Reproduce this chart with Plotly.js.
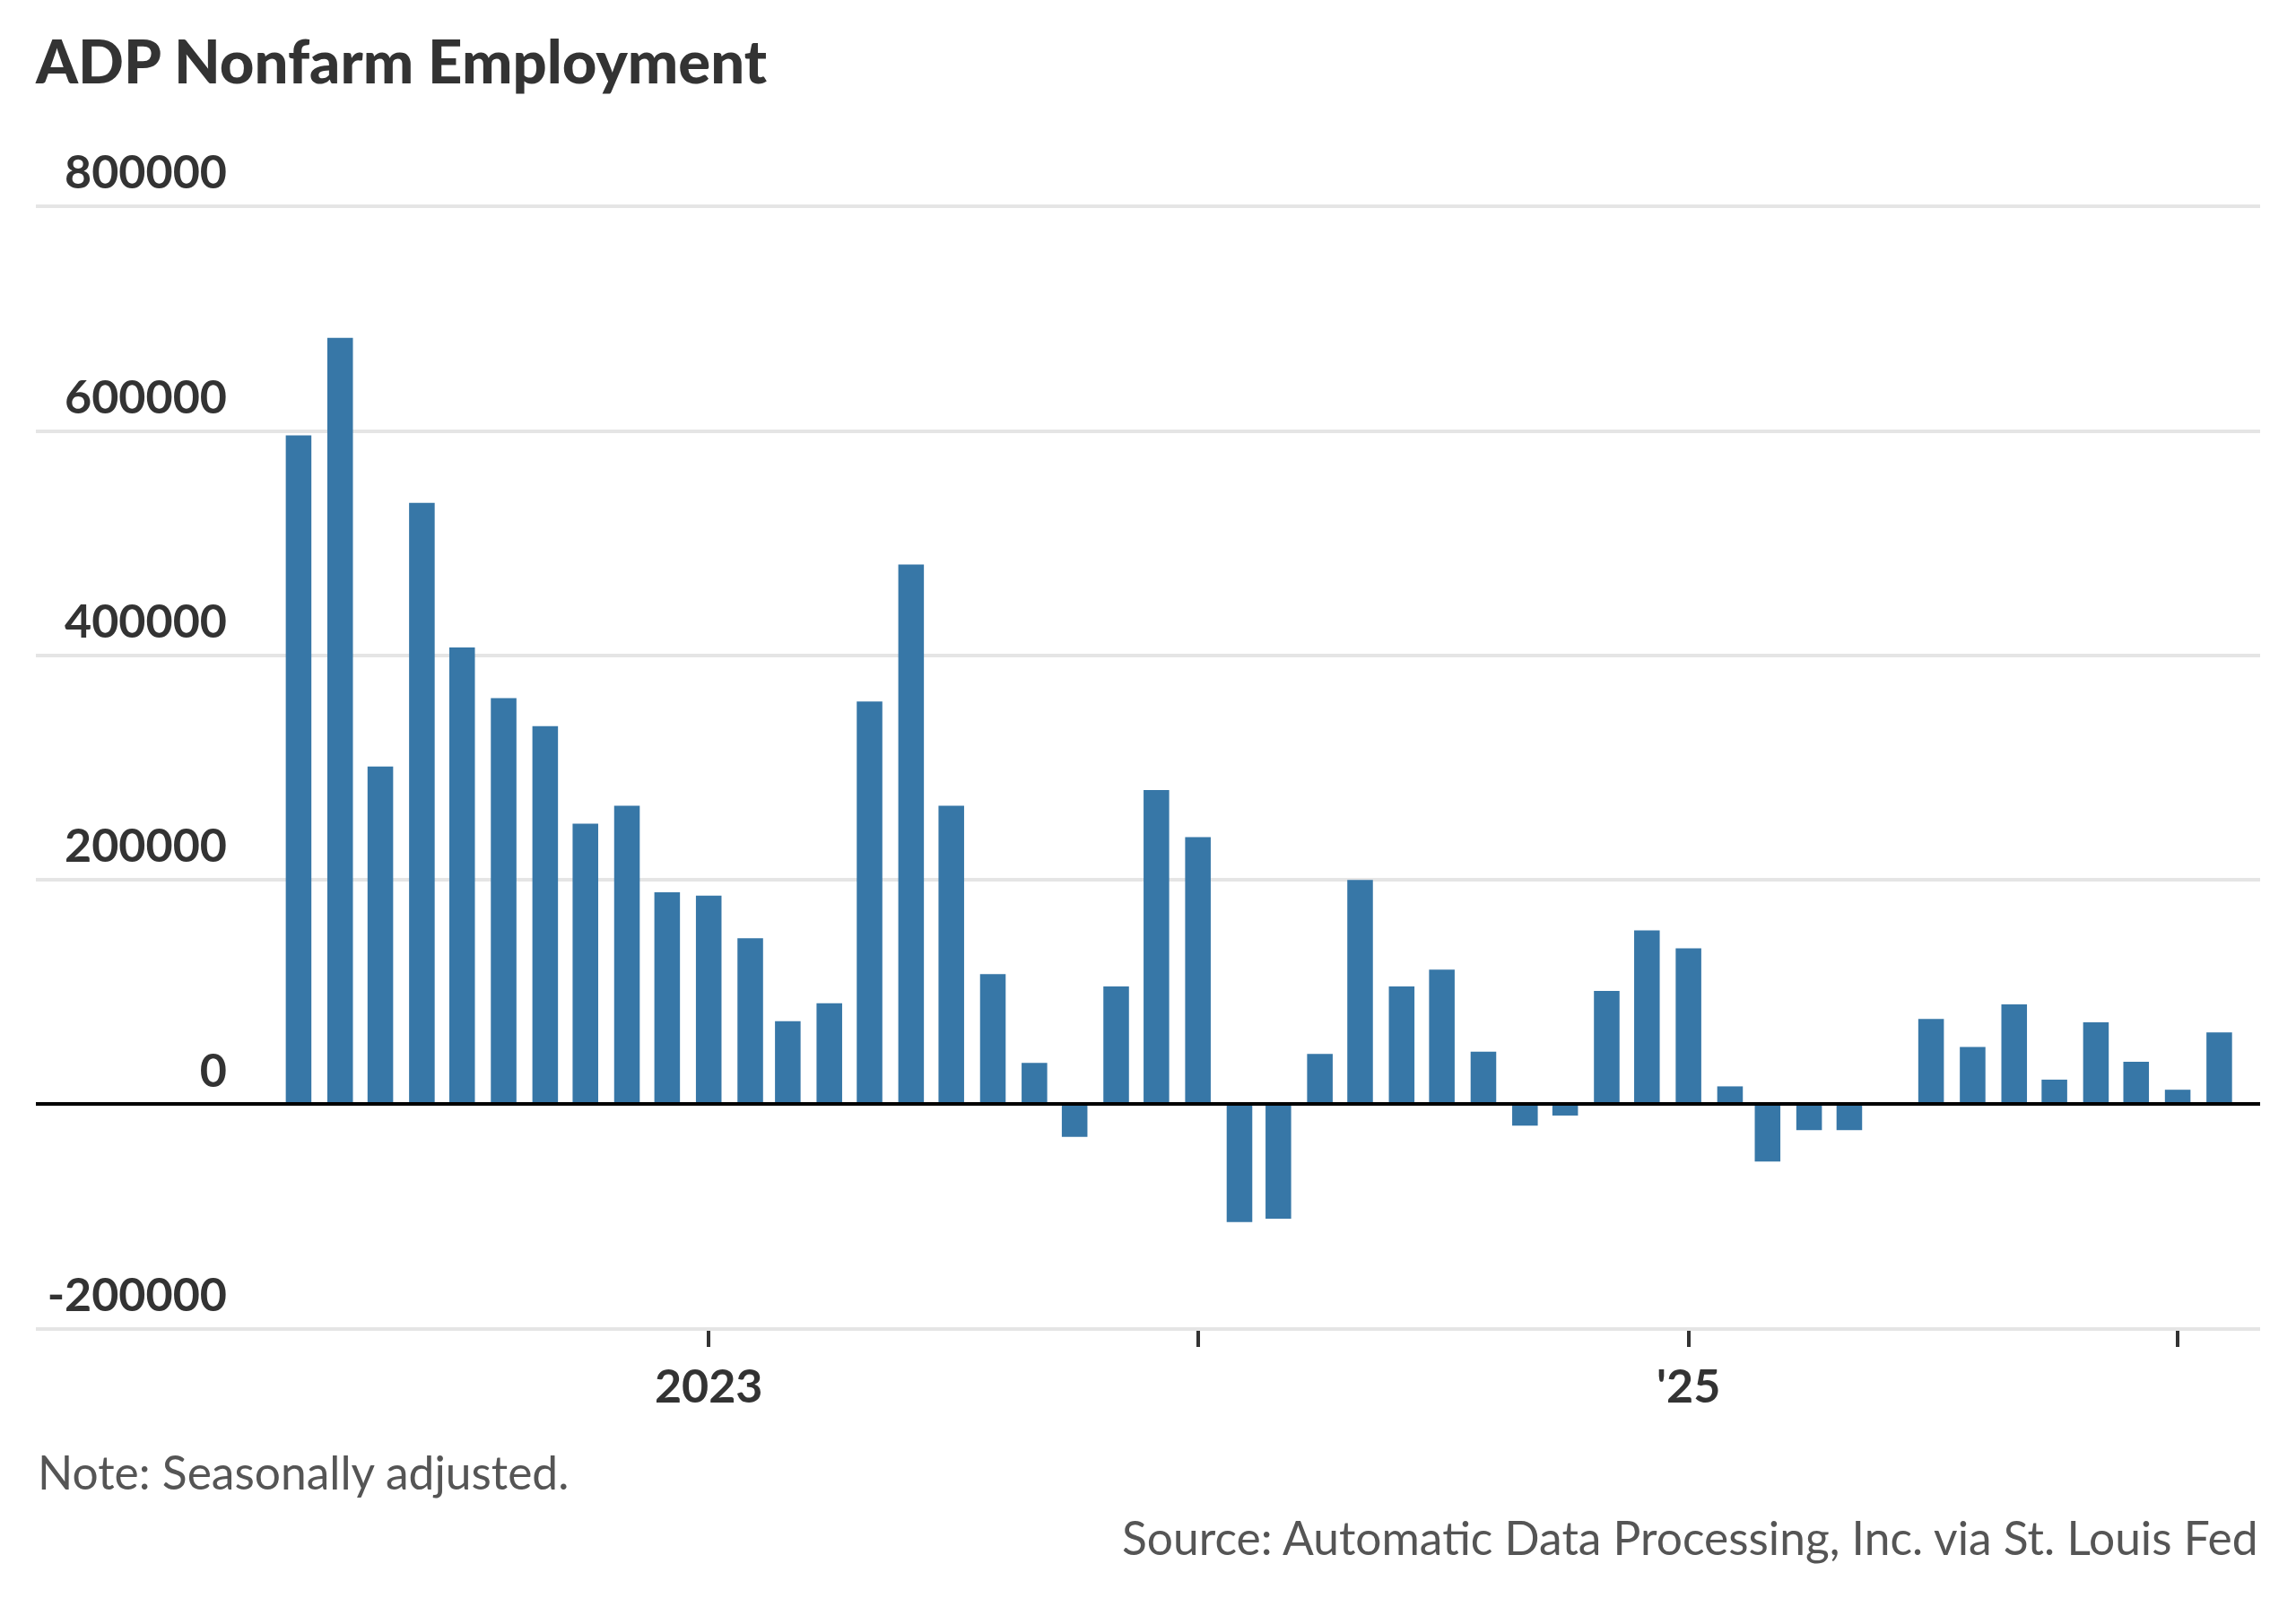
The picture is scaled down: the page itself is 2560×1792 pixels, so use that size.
<!DOCTYPE html>
<html>
<head>
<meta charset="utf-8">
<script src="https://cdn.plot.ly/plotly-3.0.1.min.js"></script>
<style>
  html, body { margin: 0; padding: 0; background: #ffffff; }
  #chart { width: 2560px; height: 1792px; }
</style>
</head>
<body>
<div id="chart"></div>
<script>
// ---- data (monthly change in ADP nonfarm employment) ----
const months = [
  '2022-03-01','2022-04-01','2022-05-01','2022-06-01','2022-07-01','2022-08-01',
  '2022-09-01','2022-10-01','2022-11-01','2022-12-01','2023-01-01','2023-02-01',
  '2023-03-01','2023-04-01','2023-05-01','2023-06-01','2023-07-01','2023-08-01',
  '2023-09-01','2023-10-01','2023-11-01','2023-12-01','2024-01-01','2024-02-01',
  '2024-03-01','2024-04-01','2024-05-01','2024-06-01','2024-07-01','2024-08-01',
  '2024-09-01','2024-10-01','2024-11-01','2024-12-01','2025-01-01','2025-02-01',
  '2025-03-01','2025-04-01','2025-05-01','2025-06-01','2025-07-01','2025-08-01',
  '2025-09-01','2025-10-01','2025-11-01','2025-12-01','2026-01-01','2026-02-01'
];
const employmentChange = [
  596000, 683000, 301000, 536000, 407000, 362000,
  337000, 250000, 266000, 189000, 186000, 148000,
  74000, 90000, 359000, 481000, 266000, 116000,
  37000, -29000, 105000, 280000, 238000, -105000,
  -102000, 45000, 200000, 105000, 120000, 47000,
  -19000, -10000, 101000, 155000, 139000, 16000,
  -51000, -23000, -23000, 0, 76000, 51000,
  89000, 22000, 73000, 38000, 13000, 64000
];
const yTickVals = [-200000, 0, 200000, 400000, 600000, 800000];
const yTickText = ['-200000', '0', '200000', '400000', '600000', '800000'];
const xMajorTickVals = ['2023-01-01', '2025-01-01'];
const xMajorTickText = ['2023', "'25"];
const xMinorTickVals = ['2024-01-01', '2026-01-01'];
const xLongTickVals = ['2025-01-01'];

const titleText = 'ADP Nonfarm Employment';
const noteText = 'Note: Seasonally adjusted.';
const sourceText = 'Source: Automatic Data Processing, Inc. via St. Louis Fed';

// ---- styling ----
const DAY = 86400000;
const xRange = ['2021-08-17', '2026-03-03 12:00'];
const yRange = [-201000, 801000];   // tiny padding so the edge gridlines are drawn
const FONT = 'Lato, "Noto Sans", sans-serif';

const trace = {
  type: 'bar',
  x: months,
  y: employmentChange,
  width: 19.1 * DAY,
  marker: { color: '#3777a7', line: { width: 0 } },
  hoverinfo: 'x+y',
  xaxis: 'x',
  yaxis: 'y'
};

const layout = {
  width: 2560,
  height: 1792,
  paper_bgcolor: '#ffffff',
  plot_bgcolor: '#ffffff',
  margin: { l: 40, r: 40, t: 229, b: 309, pad: 0 },
  showlegend: false,
  title: {
    text: titleText,
    font: { family: FONT, size: 67, weight: 900, color: '#333333' },
    x: 40 / 2560, xanchor: 'left', xref: 'container',
    y: 1 - 70 / 1792, yanchor: 'middle', yref: 'container'
  },
  xaxis: {
    type: 'date',
    range: xRange,
    tickmode: 'array',
    tickvals: xMajorTickVals,
    ticktext: xMajorTickText,
    ticks: 'outside',
    ticklen: 18,
    tickwidth: 4,
    tickcolor: '#333333',
    tickfont: { family: FONT, size: 52, weight: 700, color: '#333333' },
    ticklabelstandoff: 0,
    showgrid: false,
    zeroline: false,
    showline: false,
    automargin: false,
    fixedrange: true,
    minor: {
      tickmode: 'array',
      tickvals: xMinorTickVals,
      ticks: 'outside',
      ticklen: 18,
      tickwidth: 4,
      tickcolor: '#333333',
      showgrid: false
    }
  },
  xaxis2: {
    type: 'date',
    range: xRange,
    overlaying: 'x',
    anchor: 'y',
    side: 'bottom',
    tickmode: 'array',
    tickvals: xLongTickVals,
    ticks: 'outside',
    ticklen: 28,
    tickwidth: 4,
    tickcolor: '#333333',
    showticklabels: false,
    showgrid: false,
    zeroline: false,
    showline: false,
    automargin: false,
    fixedrange: true
  },
  yaxis: {
    range: yRange,
    tickmode: 'array',
    tickvals: yTickVals,
    ticktext: yTickText,
    ticks: '',
    showgrid: true,
    gridcolor: '#e5e5e5',
    gridwidth: 4,
    zeroline: true,
    zerolinecolor: '#000000',
    zerolinewidth: 4,
    zerolinelayer: 'above traces',
    showline: false,
    tickfont: { family: FONT, size: 52, weight: 700, color: '#333333' },
    ticklabelposition: 'outside',
    ticklabelstandoff: -214,
    ticklabelshift: -38,
    automargin: false,
    fixedrange: true
  },
  annotations: [
    {
      text: noteText,
      xref: 'paper', yref: 'paper',
      x: 0, y: -0.1262,
      xanchor: 'left', yanchor: 'middle',
      showarrow: false,
      font: { family: FONT, size: 51.5, color: '#555555' }
    },
    {
      text: sourceText,
      xref: 'paper', yref: 'paper',
      x: 1, y: -0.1845,
      xanchor: 'right', yanchor: 'middle',
      showarrow: false,
      font: { family: FONT, size: 51.5, color: '#555555' }
    }
  ]
};

Plotly.newPlot('chart', [trace], layout, { displayModeBar: false, staticPlot: true });
</script>
</body>
</html>
